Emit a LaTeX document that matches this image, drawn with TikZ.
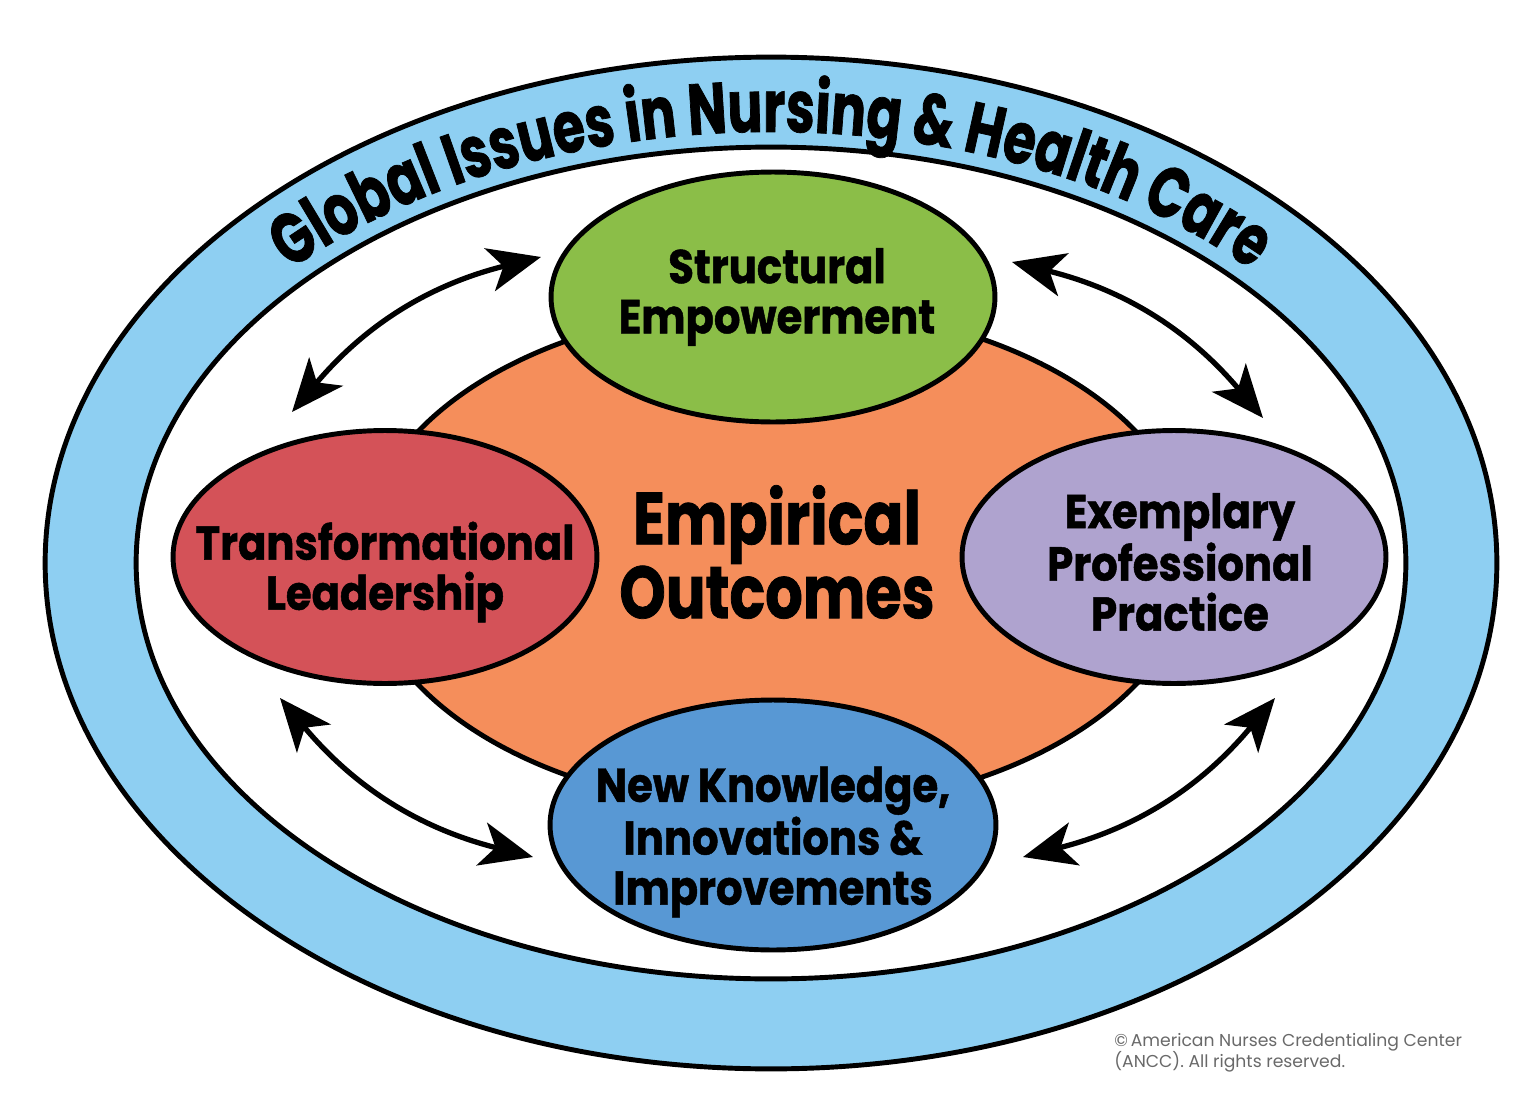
\documentclass[tikz,border=0pt]{standalone}
\usepackage{fontspec}
\usepackage{xcolor}
\usepackage{tikz}
\usetikzlibrary{shapes.geometric,arrows.meta,decorations.text,positioning}
\setmainfont{Poppins}
\newfontfamily\ringfont{Poppins}[FakeStretch=0.72, BoldFeatures={FakeBold=1}]
\newfontfamily\pillarfont{Poppins}[FakeStretch=0.88, BoldFeatures={FakeBold=1}]
\newfontfamily\corefont{Poppins}[FakeStretch=0.8, BoldFeatures={FakeBold=1}]
\newcommand\ringtext{\ringfont\bfseries\fontsize{41}{41}\selectfont}
\definecolor{ringblue}{RGB}{142,207,242}
\definecolor{empgreen}{RGB}{139,190,72}
\definecolor{outorange}{RGB}{245,142,91}
\definecolor{leadred}{RGB}{212,82,88}
\definecolor{practpurple}{RGB}{175,163,207}
\definecolor{knowblue}{RGB}{88,152,212}
\definecolor{notegray}{RGB}{105,105,105}

\begin{document}
\begin{tikzpicture}[x=0.02cm,y=0.02cm,
  oval/.style={ellipse, draw=black, line width=2.8pt, inner sep=0pt},
  pillartext/.style={align=center, inner sep=0pt,
    font=\pillarfont\bfseries\fontsize{27}{28.5}\selectfont},
  twoway/.style={line width=3pt,
    {Stealth[length=30pt,width=25pt,inset=8pt]}-{Stealth[length=30pt,width=25pt,inset=8pt]}}]
  \useasboundingbox (0,0) rectangle (1536,-1116);

  % ring
  \node[oval, fill=ringblue, minimum width=29.04cm, minimum height=20.24cm] (outer) at (771,-563) {};
  \node[oval, fill=white, minimum width=25.4cm, minimum height=16.64cm] (inner) at (771,-563) {};
  \path[decorate, decoration={text along path, text align=center,
      text={|\ringtext|Global Issues in Nursing {\&} Health Care}}]
    (outer.center) ++(150:655 and 431) arc[start angle=150, end angle=30, x radius=655, y radius=431];

  % core
  \node[oval, fill=outorange, minimum width=16.6cm, minimum height=10.08cm] (core) at (777,-558) {};
  \node[align=center, inner sep=0pt, font=\corefont\bfseries\fontsize{42}{41}\selectfont]
    (coretext) at ([yshift=0.12cm]core.center) {Empirical\\Outcomes};

  % pillars
  \node[oval, fill=empgreen, minimum width=8.88cm, minimum height=5cm] (struct) at (773,-297) {};
  \node[oval, fill=leadred, minimum width=8.48cm, minimum height=5.06cm] (lead) at (385,-557) {};
  \node[oval, fill=practpurple, minimum width=8.48cm, minimum height=5.06cm] (pract) at (1174,-557) {};
  \node[oval, fill=knowblue, minimum width=8.92cm, minimum height=5cm] (know) at (773,-825) {};

  \node[pillartext] (structtext) at ([xshift=0.08cm]struct.center) {Structural\\Empowerment};
  \node[pillartext] (leadtext) at ([yshift=-0.3cm]lead.center) {Transformational\\Leadership};
  \node[pillartext] (practtext) at ([xshift=0.12cm,yshift=-0.1cm]pract.center) {Exemplary\\Professional\\Practice};
  \node[pillartext] (knowtext) at ([yshift=-0.34cm]know.center) {New Knowledge,\\Innovations \&\\Improvements};

  % arrow tips
  \coordinate (tl1) at (292,-412);
  \coordinate (tl2) at (541,-257);
  \coordinate (tr1) at (1012,-262);
  \coordinate (tr2) at (1263,-418);
  \coordinate (bl1) at (280,-698);
  \coordinate (bl2) at (533,-857);
  \coordinate (br1) at (1275,-698);
  \coordinate (br2) at (1023,-857);

  \draw[twoway] (tl1) to[bend left=18] (tl2);
  \draw[twoway] (tr1) to[bend left=18] (tr2);
  \draw[twoway] (bl1) to[bend right=18] (bl2);
  \draw[twoway] (br1) to[bend left=18] (br2);

  \node[anchor=north west, align=left, text=notegray, inner sep=0pt,
    font=\fontsize{9.8}{11.8}\selectfont] (note) at (1114,-1033)
    {\textcopyright\,American Nurses Credentialing Center\\(ANCC). All rights reserved.};
\end{tikzpicture}
\end{document}
